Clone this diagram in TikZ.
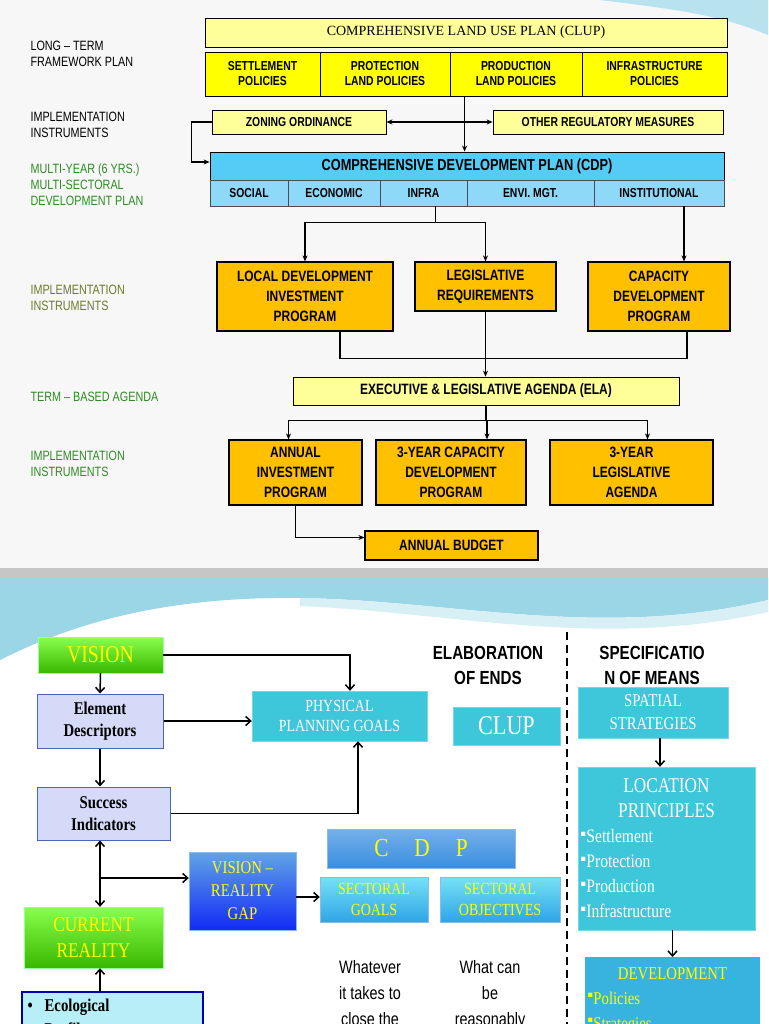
\documentclass[tikz,border=0pt]{standalone}
\usepackage{amssymb}
\usepackage{fontspec}
\setmainfont{Liberation Serif}
\newfontfamily\nsans{Liberation Sans}[FakeStretch=0.8]
\newfontfamily\nserif{Liberation Serif}[FakeStretch=0.82]
\usetikzlibrary{arrows.meta}
\definecolor{lyel}{HTML}{FFFF99}
\definecolor{yel}{HTML}{FFFF00}
\definecolor{orng}{HTML}{FFC000}
\definecolor{cdpblue}{HTML}{55CCF5}
\definecolor{subblue}{HTML}{8ED9F8}
\definecolor{lgreen}{HTML}{2E8B22}
\definecolor{olive}{HTML}{6B7B2A}
\definecolor{cyanbox}{HTML}{3EC6DA}
\definecolor{bluebox}{HTML}{3A8EE0}
\definecolor{lav}{HTML}{D4DAF7}
\definecolor{lavb}{HTML}{4A66B0}
\definecolor{ecof}{HTML}{B8EEF5}
\definecolor{wave}{HTML}{9AD6E6}
\newcommand{\sqb}{\textsuperscript{\tiny$\blacksquare$}}
\tikzset{
  box/.style={draw=black, line width=0.8pt, align=center, inner sep=1pt,
    font=\nsans\bfseries\fontsize{13}{15}\selectfont},
  ybox/.style={box, fill=yel},
  lybox/.style={box, fill=lyel},
  obox/.style={box, fill=orng, line width=1.2pt},
  bbox/.style={box, fill=subblue, draw=gray!60!black},
  lbl/.style={align=left, anchor=west, font=\nsans\fontsize{13.5}{16}\selectfont},
  arr/.style={-{Stealth[length=6pt,width=5pt]}, line width=1.2pt},
  sbox/.style={align=center, inner sep=1pt, font=\nserif\fontsize{18}{21}\selectfont},
  cbox/.style={sbox, fill=cyanbox, draw=cyanbox!70!white, text=white},
  blbox/.style={sbox, draw=bluebox!60!white, top color=bluebox!70!white, bottom color=bluebox, text=yel},
  gbox/.style={sbox, draw=green!40!white, top color=green!55!lime!70!white, bottom color=green!60!black!70!lime, text=yel, font=\nserif\fontsize{24}{28}\selectfont},
  pbox/.style={sbox, fill=lav, draw=lavb, line width=1pt, text=black, font=\nserif\bfseries\fontsize{18}{22}\selectfont},
  oarr/.style={-{Straight Barb[length=5pt,width=9pt]}, line width=1.5pt},
  dbl/.style={{Straight Barb[length=5pt,width=9pt]}-{Straight Barb[length=5pt,width=9pt]}, line width=1.5pt},
  txt/.style={align=center, font=\nsans\bfseries\fontsize{19}{25}\selectfont}
}
\begin{document}
\begin{tikzpicture}[x=1pt,y=-1pt]
\useasboundingbox (0,0) rectangle (768,1024);
\clip (0,0) rectangle (768,1024);
% backgrounds
\fill[gray!6] (0,0) rectangle (768,572);
\fill[wave!70] (600,0) .. controls (680,10) and (720,15) .. (768,35) -- (768,0) -- cycle;
\fill[gray!45] (0,568) rectangle (768,578);
\fill[white] (0,578) rectangle (768,1024);
\fill[wave] (0,578) -- (768,578) -- (768,600) .. controls (600,640) and (450,600) .. (300,598)
  .. controls (150,596) and (60,630) .. (0,660) -- cycle;
\fill[wave!40] (300,598) .. controls (450,600) and (600,640) .. (768,600) -- (768,612)
  .. controls (600,650) and (450,612) .. (300,606) -- cycle;

% ---------- top panel ----------
\node[lbl] (t1) at (27,54) {LONG – TERM\\FRAMEWORK PLAN};
\node[lbl] (t2) at (27,125) {IMPLEMENTATION\\INSTRUMENTS};
\node[lbl, text=lgreen] (t3) at (27,185) {MULTI-YEAR (6 YRS.)\\MULTI-SECTORAL\\DEVELOPMENT PLAN};
\node[lbl, text=olive] (t4) at (27,298) {IMPLEMENTATION\\INSTRUMENTS};
\node[lbl, text=lgreen] (t5) at (27,397) {TERM – BASED AGENDA};
\node[lbl, text=lgreen] (t6) at (27,464) {IMPLEMENTATION\\INSTRUMENTS};

\node[lybox, minimum width=522, minimum height=29, font=\fontsize{14}{16}\selectfont] (clup) at (466,32.5) {COMPREHENSIVE LAND USE PLAN (CLUP)};
\node[ybox, minimum width=115, minimum height=44] (sp1) at (262.5,74) {SETTLEMENT\\POLICIES};
\node[ybox, minimum width=130, minimum height=44] (sp2) at (385,74) {PROTECTION\\LAND POLICIES};
\node[ybox, minimum width=132, minimum height=44] (sp3) at (516,74) {PRODUCTION\\LAND POLICIES};
\node[ybox, minimum width=145, minimum height=44] (sp4) at (654.5,74) {INFRASTRUCTURE\\POLICIES};

\node[lybox, minimum width=174, minimum height=24] (zo) at (299,122) {ZONING ORDINANCE};
\node[lybox, minimum width=230, minimum height=24] (orm) at (608,122) {OTHER REGULATORY MEASURES};

\node[box, fill=cdpblue, minimum width=514, minimum height=28, font=\nsans\bfseries\fontsize{16}{18}\selectfont] (cdp) at (467,166) {COMPREHENSIVE DEVELOPMENT PLAN (CDP)};
\node[bbox, minimum width=78, minimum height=26] (social) at (249,193) {SOCIAL};
\node[bbox, minimum width=92, minimum height=26] (econ) at (334,193) {ECONOMIC};
\node[bbox, minimum width=87, minimum height=26] (infra) at (423.5,193) {INFRA};
\node[bbox, minimum width=127, minimum height=26] (envi) at (530.5,193) {ENVI. MGT.};
\node[bbox, minimum width=130, minimum height=26] (inst) at (659,193) {INSTITUTIONAL};

\node[obox, minimum width=176, minimum height=69, font=\nsans\bfseries\fontsize{15}{20}\selectfont] (ldip) at (305,296.5) {LOCAL DEVELOPMENT\\INVESTMENT\\PROGRAM};
\node[obox, minimum width=141, minimum height=49, font=\nsans\bfseries\fontsize{15}{20}\selectfont] (leg) at (485.5,286.5) {LEGISLATIVE\\REQUIREMENTS};
\node[obox, minimum width=142, minimum height=69, font=\nsans\bfseries\fontsize{15}{20}\selectfont] (cap) at (659,296.5) {CAPACITY\\DEVELOPMENT\\PROGRAM};

\node[lybox, minimum width=386, minimum height=28, font=\nsans\bfseries\fontsize{15}{17}\selectfont] (ela) at (486,391) {EXECUTIVE \& LEGISLATIVE AGENDA (ELA)};

\node[obox, minimum width=133, minimum height=65, font=\nsans\bfseries\fontsize{15}{20}\selectfont] (aip) at (295.5,472.5) {ANNUAL\\INVESTMENT\\PROGRAM};
\node[obox, minimum width=150, minimum height=65, font=\nsans\bfseries\fontsize{15}{20}\selectfont] (cdp3) at (451,472.5) {3-YEAR CAPACITY\\DEVELOPMENT\\PROGRAM};
\node[obox, minimum width=163, minimum height=65, font=\nsans\bfseries\fontsize{15}{20}\selectfont] (leg3) at (631.5,472.5) {3-YEAR\\LEGISLATIVE\\AGENDA};
\node[obox, minimum width=173, minimum height=29, font=\nsans\bfseries\fontsize{15}{17}\selectfont] (ab) at (451.5,545.5) {ANNUAL BUDGET};

% top connectors
\draw[arr] ([xshift=15pt]sp3.south west) -- ([xshift=15pt]sp3.south west |- cdp.north);
\draw[arr, <->, >={Stealth[length=6pt,width=5pt]}] (zo.east) -- (orm.west);
\draw[arr] (zo.west) -- ++(-20,0) |- ([yshift=4pt]cdp.west);
\draw[line width=1.2pt] ([xshift=12pt]infra.south) -- ++(0,16) coordinate (j1);
\draw[line width=1.2pt] (ldip.north |- j1) -- (leg.north |- j1);
\draw[arr] (ldip.north |- j1) -- (ldip.north);
\draw[arr] (leg.north |- j1) -- (leg.north);
\draw[arr] ([xshift=25pt]inst.south) -- ([xshift=25pt]inst.south |- cap.north);
\draw[line width=1.2pt] ([xshift=35pt]ldip.south) -- ++(0,27) -| ([xshift=28pt]cap.south);
\draw[arr] (leg.south) -- (leg.south |- ela.north);
\draw[line width=1.2pt] (ela.south) -- ++(0,15) coordinate (j2);
\draw[line width=1.2pt] ([xshift=-7pt]aip.north |- j2) -- ([xshift=16pt]leg3.north |- j2);
\draw[arr] ([xshift=-7pt]aip.north |- j2) -- ([xshift=-7pt]aip.north);
\draw[arr] ([xshift=36pt]cdp3.north |- j2) -- ([xshift=36pt]cdp3.north);
\draw[arr] ([xshift=16pt]leg3.north |- j2) -- ([xshift=16pt]leg3.north);
\draw[arr] (aip.south) |- ([yshift=8pt]ab.west);

% ---------- bottom panel ----------
\node[gbox, minimum width=125, minimum height=36] (vision) at (100.5,655) {VISION};
\node[pbox, minimum width=126, minimum height=54] (ed) at (100,721) {Element\\Descriptors};
\node[pbox, minimum width=133, minimum height=53] (si) at (103.5,813.5) {Success\\Indicators};
\node[cbox, minimum width=175, minimum height=50, font=\nserif\fontsize{17}{20}\selectfont] (ppg) at (339.5,716) {PHYSICAL\\PLANNING GOALS};
\node[cbox, minimum width=107, minimum height=38, font=\nserif\fontsize{27}{30}\selectfont] (clupb) at (506.5,726) {CLUP};
\node[cbox, minimum width=150, minimum height=51, font=\nserif\fontsize{18}{23}\selectfont] (spatial) at (653,712.5) {SPATIAL\\STRATEGIES};
\node[cbox, minimum width=177, minimum height=163, text width=172, align=left, font=\nserif\fontsize{21}{25}\selectfont] (loc) at (666.5,848.5)
  {{\centering LOCATION\\PRINCIPLES\par}\raggedright\fontsize{19}{25}\selectfont\sqb Settlement\\\sqb Protection\\\sqb Production\\\sqb Infrastructure};
\node[sbox, fill=cyanbox!90!blue, text=yel, minimum width=175, minimum height=86, text width=170, align=left, anchor=north, font=\nserif\fontsize{18}{25}\selectfont] (dev) at (672.5,957)
  {{\centering DEVELOPMENT\par}\raggedright\sqb Policies\\\sqb Strategies};
\node[blbox, minimum width=188, minimum height=39, font=\nserif\fontsize{26}{30}\selectfont] (cdpb) at (421,848.5) {C\quad D\quad P};
\node[blbox, top color=bluebox!45!cyan!60!white, bottom color=bluebox!80!cyan, minimum width=108, minimum height=45, font=\nserif\fontsize{17}{21}\selectfont] (sg) at (374,899.5) {SECTORAL\\GOALS};
\node[blbox, top color=bluebox!45!cyan!60!white, bottom color=bluebox!80!cyan, minimum width=120, minimum height=45, font=\nserif\fontsize{17}{21}\selectfont] (so) at (500,899.5) {SECTORAL\\OBJECTIVES};
\node[blbox, top color=bluebox!80!white, bottom color=blue!70!bluebox, minimum width=107, minimum height=78, font=\nserif\fontsize{18}{23}\selectfont] (vrg) at (242.5,891) {VISION –\\REALITY\\GAP};
\node[gbox, minimum width=139, minimum height=61, font=\nserif\fontsize{21}{26}\selectfont] (cr) at (93.5,937.5) {CURRENT\\REALITY};
\node[sbox, fill=ecof, draw=blue!70!black, line width=2pt, minimum width=181, minimum height=50, anchor=north, text width=170, align=left, font=\nserif\bfseries\fontsize{18}{24}\selectfont] (eco) at (112.5,991) {\textbullet\ \ Ecological\\\phantom{\textbullet\ \ }Profile};
\node[txt] (elab) at (488,665) {ELABORATION\\OF ENDS};
\node[txt] (spec) at (652,665) {SPECIFICATIO\\N OF MEANS};
\node[txt, anchor=north, font=\nsans\fontsize{18}{26}\selectfont] (w1) at (370,957) {Whatever\\it takes to\\close the};
\node[txt, anchor=north, font=\nsans\fontsize{18}{26}\selectfont] (w2) at (490,957) {What can\\be\\reasonably};
\draw[line width=2pt, dash pattern=on 8pt off 5pt] (567,632) -- (567,1024);

% bottom connectors
\draw[oarr] (vision.south) -- (ed.north);
\draw[oarr] (vision.east) -| ([xshift=10.5pt]ppg.north);
\draw[oarr] (ed.east) -- (ed.east -| ppg.west);
\draw[oarr] (ed.south) -- (ed.south |- si.north);
\draw[oarr] (si.east) -| ([xshift=18.5pt]ppg.south);
\draw[dbl] (ed.south |- si.south) -- (ed.south |- cr.north);
\coordinate (g) at ([yshift=13pt]vrg.west);
\draw[oarr] (ed.south |- g) -- (g);
\draw[oarr] ([yshift=-6pt]vrg.east) -- ([yshift=-6pt]vrg.east -| sg.west);
\draw[oarr] (ed.south |- eco.north) -- (ed.south |- cr.south);
\draw[oarr] ([xshift=7pt]spatial.south) -- ([xshift=7pt]spatial.south |- loc.north);
\draw[oarr] ([xshift=6pt]loc.south) -- ([xshift=6pt]loc.south |- dev.north);
\end{tikzpicture}
\end{document}
